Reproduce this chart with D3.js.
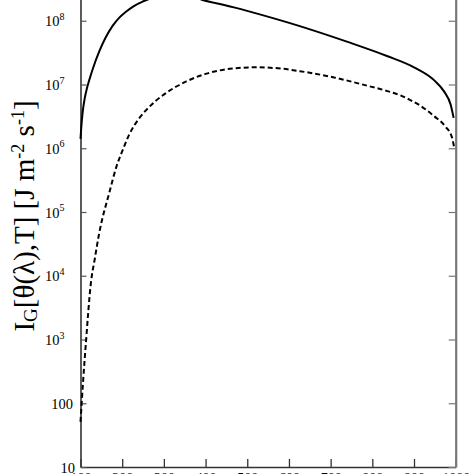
<!DOCTYPE html>
<html>
<head>
<meta charset="utf-8">
<script src="https://cdn.jsdelivr.net/npm/d3@7"></script>
<style>
  html, body { margin: 0; padding: 0; background: #fff; }
  svg { display: block; }
  text { font-family: "Liberation Serif", "Times New Roman", serif; }
</style>
</head>
<body>
<svg id="chart" width="474" height="474"></svg>
<script>
// Wavelength (nm) and irradiance values
const lambdaSolid = [100, 102, 105, 110, 115, 121, 130, 145, 160, 177, 192, 209, 228, 249, 280, 320, 360, 391, 468, 547, 643, 739, 835, 900, 948, 972, 988, 995];
const valuesSolid = [1.4e6, 2.2e6, 3.6e6, 6.0e6, 8.5e6, 1.17e7, 1.8e7, 3.3e7, 5.4e7, 8.3e7, 1.1e8, 1.38e8, 1.7e8, 2.0e8, 2.35e8, 2.55e8, 2.45e8, 2.14e8, 1.62e8, 1.17e8, 7.6e7, 4.7e7, 2.8e7, 1.86e7, 1.17e7, 7.8e6, 4.8e6, 3.0e6];

const lambdaDashed = [100, 106, 113, 125, 134, 145, 169, 186, 201, 218, 240, 258, 280, 306, 330, 354, 402, 458, 520, 580, 626, 708, 787, 830, 866, 890, 914, 948, 975, 991, 996];
const valuesDashed = [51, 210, 890, 7.8e3, 1.8e4, 4.7e4, 2.0e5, 5.1e5, 9.3e5, 1.7e6, 2.9e6, 4.0e6, 5.5e6, 7.4e6, 9.3e6, 1.12e7, 1.48e7, 1.76e7, 1.86e7, 1.78e7, 1.62e7, 1.29e7, 9.6e6, 8.1e6, 6.8e6, 5.75e6, 4.7e6, 3.2e6, 2.2e6, 1.48e6, 1.05e6];

const xTickValues = [100, 200, 300, 400, 500, 600, 700, 800, 900, 1000];
const yTickValues = [10, 100, 1e3, 1e4, 1e5, 1e6, 1e7, 1e8, 1e9];
const yTickBase   = ["10", "100", "10", "10", "10", "10", "10", "10", "10"];
const yTickExp    = ["", "", "3", "4", "5", "6", "7", "8", "9"];

const svg = d3.select("#chart");

const x = d3.scaleLinear().domain([100, 1000]).range([80.5, 455.7]);
const y = d3.scaleLog().domain([10, 1e9]).range([467, -43]);

// Axes
const gBottom = svg.append("g")
  .attr("transform", `translate(0,${y(10)})`)
  .call(d3.axisBottom(x).tickValues(xTickValues).tickSizeInner(-8).tickSizeOuter(0).tickPadding(6.5).tickFormat(d3.format("d")));
gBottom.selectAll("text").attr("font-size", 14).attr("fill", "#000")
  .style("font-family", '"Liberation Serif", serif');
gBottom.select(".domain").attr("stroke", "#333").attr("stroke-width", 1.6);
gBottom.selectAll(".tick line").attr("stroke", "#333").attr("stroke-width", 1.3);

const gLeft = svg.append("g")
  .attr("transform", `translate(${x(100)},0)`)
  .call(d3.axisLeft(y).tickValues(yTickValues).tickSizeInner(-6).tickSizeOuter(0).tickFormat(""));
gLeft.select(".domain").attr("stroke", "#333").attr("stroke-width", 1.6);
gLeft.selectAll(".tick line").attr("stroke", "#555").attr("stroke-width", 1.2);

const gRight = svg.append("g")
  .attr("transform", `translate(${x(1000)},0)`)
  .call(d3.axisRight(y).tickValues(yTickValues).tickSizeInner(-7).tickSizeOuter(0).tickFormat(""));
gRight.select(".domain").attr("stroke", "#777").attr("stroke-width", 2.2);
gRight.selectAll(".tick line").attr("stroke", "#777").attr("stroke-width", 1.2);

// Y tick labels with superscripts
const yl = svg.append("g").selectAll("text")
  .data(yTickValues.map((v, i) => ({ v, b: yTickBase[i], e: yTickExp[i] })))
  .join("text")
  .attr("font-size", 14.5)
  .attr("fill", "#000")
  .attr("text-anchor", "end")
  .attr("y", d => y(d.v) + 5.5)
  .attr("x", d => d.e ? 64.5 : (d.b === "100" ? 73 : 75));
yl.each(function(d) {
  const t = d3.select(this);
  t.append("tspan").text(d.b);
  if (d.e) t.append("tspan").attr("font-size", 10).attr("dy", -6.5).text(d.e);
});

// Curves
const line = d3.line().x(d => x(d[0])).y(d => y(d[1])).curve(d3.curveMonotoneX);

svg.append("path")
  .datum(lambdaSolid.map((l, i) => [l, valuesSolid[i]]))
  .attr("fill", "none").attr("stroke", "#000").attr("stroke-width", 2)
  .attr("d", line);

svg.append("path")
  .datum(lambdaDashed.map((l, i) => [l, valuesDashed[i]]))
  .attr("fill", "none").attr("stroke", "#000").attr("stroke-width", 2)
  .attr("stroke-dasharray", "5,3")
  .attr("d", line);

// Y axis title
const title = svg.append("text")
  .attr("transform", "translate(33.5,216) rotate(-90)")
  .attr("text-anchor", "middle")
  .attr("font-size", 29)
  .attr("fill", "#000");
title.append("tspan").text("I");
title.append("tspan").attr("font-size", 19).attr("dy", 3).text("G");
title.append("tspan").attr("dy", -3).text("[θ(λ),T] [J m");
title.append("tspan").attr("font-size", 18).attr("dy", -10).text("-2");
title.append("tspan").attr("dy", 10).text(" s");
title.append("tspan").attr("font-size", 18).attr("dy", -10).text("-1");
title.append("tspan").attr("dy", 10).text("]");
</script>
</body>
</html>
